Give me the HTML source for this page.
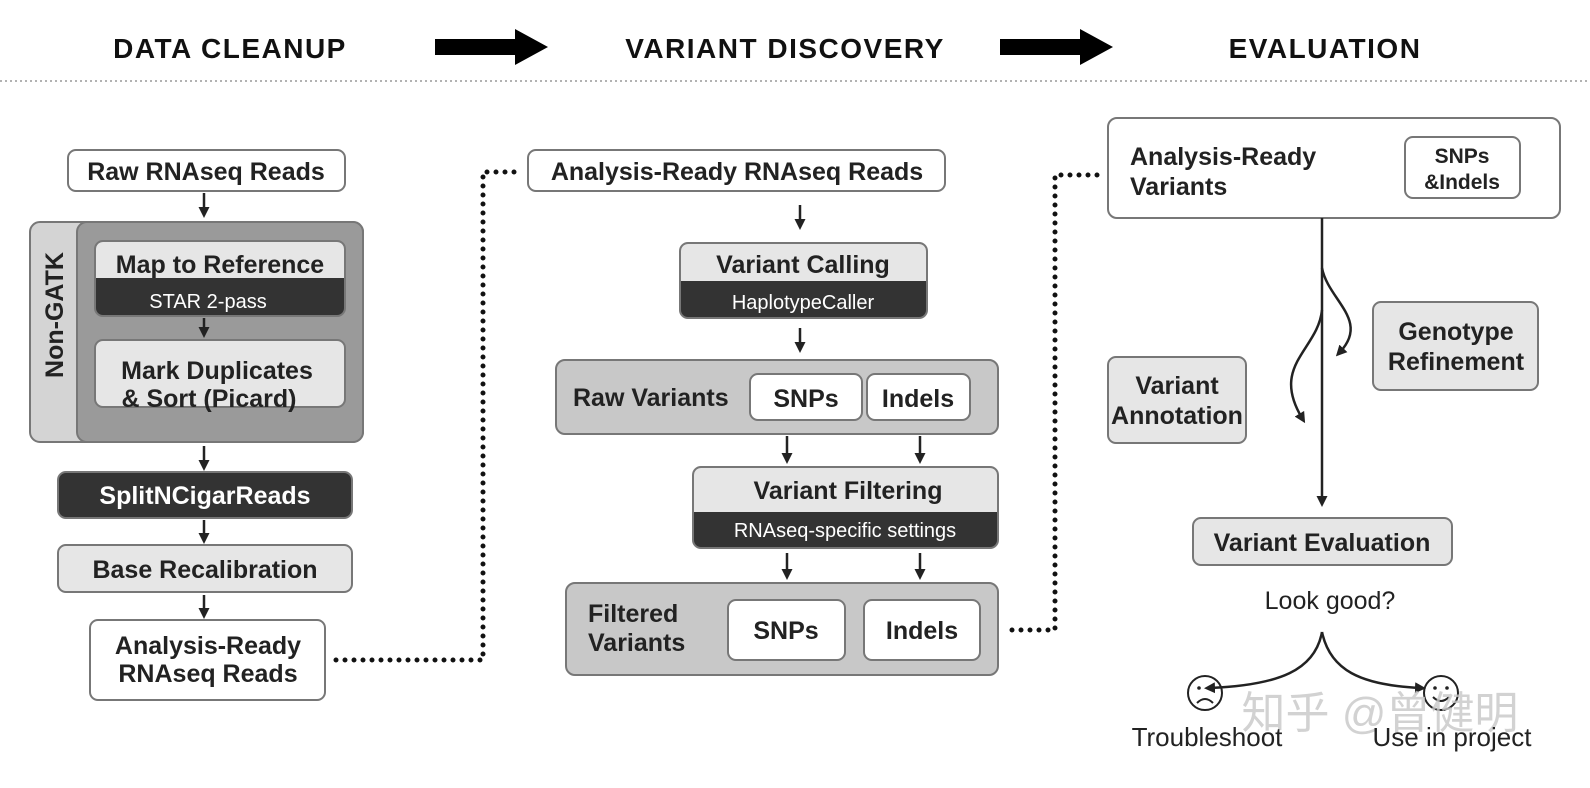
<!DOCTYPE html>
<html><head><meta charset="utf-8"><style>
html,body{margin:0;padding:0;background:#fff}
svg{display:block}
text{font-family:"Liberation Sans",sans-serif}
.b{font-weight:bold;font-size:25px;fill:#222}
.h{font-weight:bold;font-size:28px;fill:#111;letter-spacing:1.5px}
.s{font-size:20px;fill:#fff}
</style></head><body>
<svg width="1590" height="788" viewBox="0 0 1590 788" xmlns="http://www.w3.org/2000/svg">
<defs>
<marker id="a" markerWidth="11" markerHeight="11" refX="5" refY="5.5" orient="auto" markerUnits="userSpaceOnUse"><path d="M0,0 L11,5.5 L0,11 z" fill="#222"/></marker>
</defs>
<!-- header -->
<text class="h" x="230" y="58" text-anchor="middle">DATA CLEANUP</text>
<text class="h" x="785" y="58" text-anchor="middle">VARIANT DISCOVERY</text>
<text class="h" x="1325" y="58" text-anchor="middle">EVALUATION</text>
<path d="M435,39 h80 v-10 l33,18 l-33,18 v-10 h-80z" fill="#000"/>
<path d="M1000,39 h80 v-10 l33,18 l-33,18 v-10 h-80z" fill="#000"/>
<line x1="0" y1="81" x2="1590" y2="81" stroke="#999" stroke-width="1.5" stroke-dasharray="2,3"/>

<g stroke="#777" stroke-width="2">
<!-- left -->
<rect x="68" y="150" width="277" height="41" rx="8" fill="#fff"/>
<rect x="30" y="222" width="333" height="220" rx="10" fill="#d4d4d4"/>
<rect x="77" y="222" width="286" height="220" rx="10" fill="#9a9a9a"/>
<rect x="95" y="241" width="250" height="75" rx="8" fill="#333"/>
<path d="M103,242 h234 a7,7 0 0 1 7,7 v29 h-248 v-29 a7,7 0 0 1 7,-7z" fill="#e6e6e6" stroke="none"/>
<rect x="95" y="340" width="250" height="67" rx="8" fill="#e6e6e6"/>
<rect x="58" y="472" width="294" height="46" rx="8" fill="#333"/>
<rect x="58" y="545" width="294" height="47" rx="8" fill="#e6e6e6"/>
<rect x="90" y="620" width="235" height="80" rx="8" fill="#fff"/>
<!-- middle -->
<rect x="528" y="150" width="417" height="41" rx="8" fill="#fff"/>
<rect x="680" y="243" width="247" height="75" rx="8" fill="#333"/>
<path d="M688,244 h231 a7,7 0 0 1 7,7 v30 h-245 v-30 a7,7 0 0 1 7,-7z" fill="#e6e6e6" stroke="none"/>
<rect x="556" y="360" width="442" height="74" rx="9" fill="#c8c8c8"/>
<rect x="750" y="374" width="112" height="46" rx="8" fill="#fff"/>
<rect x="867" y="374" width="103" height="46" rx="8" fill="#fff"/>
<rect x="693" y="467" width="305" height="81" rx="8" fill="#333"/>
<path d="M701,468 h289 a7,7 0 0 1 7,7 v37 h-303 v-37 a7,7 0 0 1 7,-7z" fill="#e6e6e6" stroke="none"/>
<rect x="566" y="583" width="432" height="92" rx="9" fill="#c8c8c8"/>
<rect x="728" y="600" width="117" height="60" rx="8" fill="#fff"/>
<rect x="864" y="600" width="116" height="60" rx="8" fill="#fff"/>
<!-- right -->
<rect x="1108" y="118" width="452" height="100" rx="9" fill="#fff"/>
<rect x="1405" y="137" width="115" height="61" rx="8" fill="#fff"/>
<rect x="1373" y="302" width="165" height="88" rx="8" fill="#e6e6e6"/>
<rect x="1108" y="357" width="138" height="86" rx="8" fill="#e6e6e6"/>
<rect x="1193" y="518" width="259" height="47" rx="8" fill="#e6e6e6"/>
</g>

<!-- arrows -->
<g stroke="#222" stroke-width="2.5" marker-end="url(#a)">
<line x1="204" y1="193" x2="204" y2="212"/>
<line x1="204" y1="318" x2="204" y2="332"/>
<line x1="204" y1="446" x2="204" y2="465"/>
<line x1="204" y1="520" x2="204" y2="538"/>
<line x1="204" y1="595" x2="204" y2="613"/>
<line x1="800" y1="205" x2="800" y2="224"/>
<line x1="800" y1="328" x2="800" y2="347"/>
<line x1="787" y1="436" x2="787" y2="458"/>
<line x1="920" y1="436" x2="920" y2="458"/>
<line x1="787" y1="553" x2="787" y2="574"/>
<line x1="920" y1="553" x2="920" y2="574"/>
<line x1="1322" y1="218" x2="1322" y2="501"/>
</g>
<g stroke="#222" stroke-width="2.5" fill="none" marker-end="url(#a)">
<path d="M1322,268 C1328,300 1370,320 1340,352"/>
<path d="M1322,310 C1318,350 1270,365 1302,418"/>
<path d="M1322,632 C1315,670 1280,685 1210,688"/>
<path d="M1322,632 C1330,670 1360,685 1420,688"/>
</g>
<!-- dotted -->
<g stroke="#111" stroke-width="5" stroke-linecap="round" stroke-dasharray="0,9" fill="none">
<path d="M336,660 H483 V172 H522"/>
<path d="M1012,630 H1055 V175 H1102"/>
</g>

<!-- labels -->
<text class="b" x="206" y="180" text-anchor="middle">Raw RNAseq Reads</text>
<text class="b" x="54" y="315" text-anchor="middle" transform="rotate(-90 54 315)" dy="9" fill="#222">Non-GATK</text>
<text class="b" x="220" y="273" text-anchor="middle">Map to Reference</text>
<text class="s" x="208" y="308" text-anchor="middle">STAR 2-pass</text>
<text class="b" x="217" y="379" text-anchor="middle">Mark Duplicates</text>
<text class="b" x="209" y="407" text-anchor="middle">&amp; Sort (Picard)</text>
<text class="b" x="205" y="504" text-anchor="middle" style="fill:#fff">SplitNCigarReads</text>
<text class="b" x="205" y="578" text-anchor="middle">Base Recalibration</text>
<text class="b" x="208" y="654" text-anchor="middle">Analysis-Ready</text>
<text class="b" x="208" y="682" text-anchor="middle">RNAseq Reads</text>

<text class="b" x="737" y="180" text-anchor="middle">Analysis-Ready RNAseq Reads</text>
<text class="b" x="803" y="273" text-anchor="middle">Variant Calling</text>
<text class="s" x="803" y="309" text-anchor="middle">HaplotypeCaller</text>
<text class="b" x="573" y="406">Raw Variants</text>
<text class="b" x="806" y="407" text-anchor="middle">SNPs</text>
<text class="b" x="918" y="407" text-anchor="middle">Indels</text>
<text class="b" x="848" y="499" text-anchor="middle">Variant Filtering</text>
<text class="s" x="845" y="537" text-anchor="middle">RNAseq-specific settings</text>
<text class="b" x="588" y="622">Filtered</text>
<text class="b" x="588" y="651">Variants</text>
<text class="b" x="786" y="639" text-anchor="middle">SNPs</text>
<text class="b" x="922" y="639" text-anchor="middle">Indels</text>

<text class="b" x="1130" y="165">Analysis-Ready</text>
<text class="b" x="1130" y="195">Variants</text>
<text x="1462" y="163" text-anchor="middle" style="font-size:21px;font-weight:bold;fill:#222">SNPs</text>
<text x="1462" y="189" text-anchor="middle" style="font-size:21px;font-weight:bold;fill:#222">&amp;Indels</text>
<text class="b" x="1456" y="340" text-anchor="middle">Genotype</text>
<text class="b" x="1456" y="370" text-anchor="middle">Refinement</text>
<text class="b" x="1177" y="394" text-anchor="middle">Variant</text>
<text class="b" x="1177" y="424" text-anchor="middle">Annotation</text>
<text class="b" x="1322" y="551" text-anchor="middle">Variant Evaluation</text>
<text x="1330" y="609" text-anchor="middle" style="font-size:25px;fill:#222">Look good?</text>
<g stroke="#222" stroke-width="2" fill="none">
<circle cx="1205" cy="693" r="17"/><circle cx="1441" cy="693" r="17"/>
<path d="M1197,703 q8,-8 16,0"/><path d="M1433,697 q8,8 16,0"/>
</g>
<circle cx="1199" cy="688" r="1.8" fill="#222"/><circle cx="1211" cy="688" r="1.8" fill="#222"/>
<circle cx="1435" cy="688" r="1.8" fill="#222"/><circle cx="1447" cy="688" r="1.8" fill="#222"/>
<text x="1380" y="728" text-anchor="middle" style="font-family:'Liberation Sans','Noto Sans CJK SC',sans-serif;font-size:44px;fill:#c8c8c8;opacity:0.8">知乎 @曾健明</text>
<text x="1207" y="746" text-anchor="middle" style="font-size:26px;fill:#222">Troubleshoot</text>
<text x="1452" y="746" text-anchor="middle" style="font-size:26px;fill:#222">Use in project</text>
</svg>
</body></html>
